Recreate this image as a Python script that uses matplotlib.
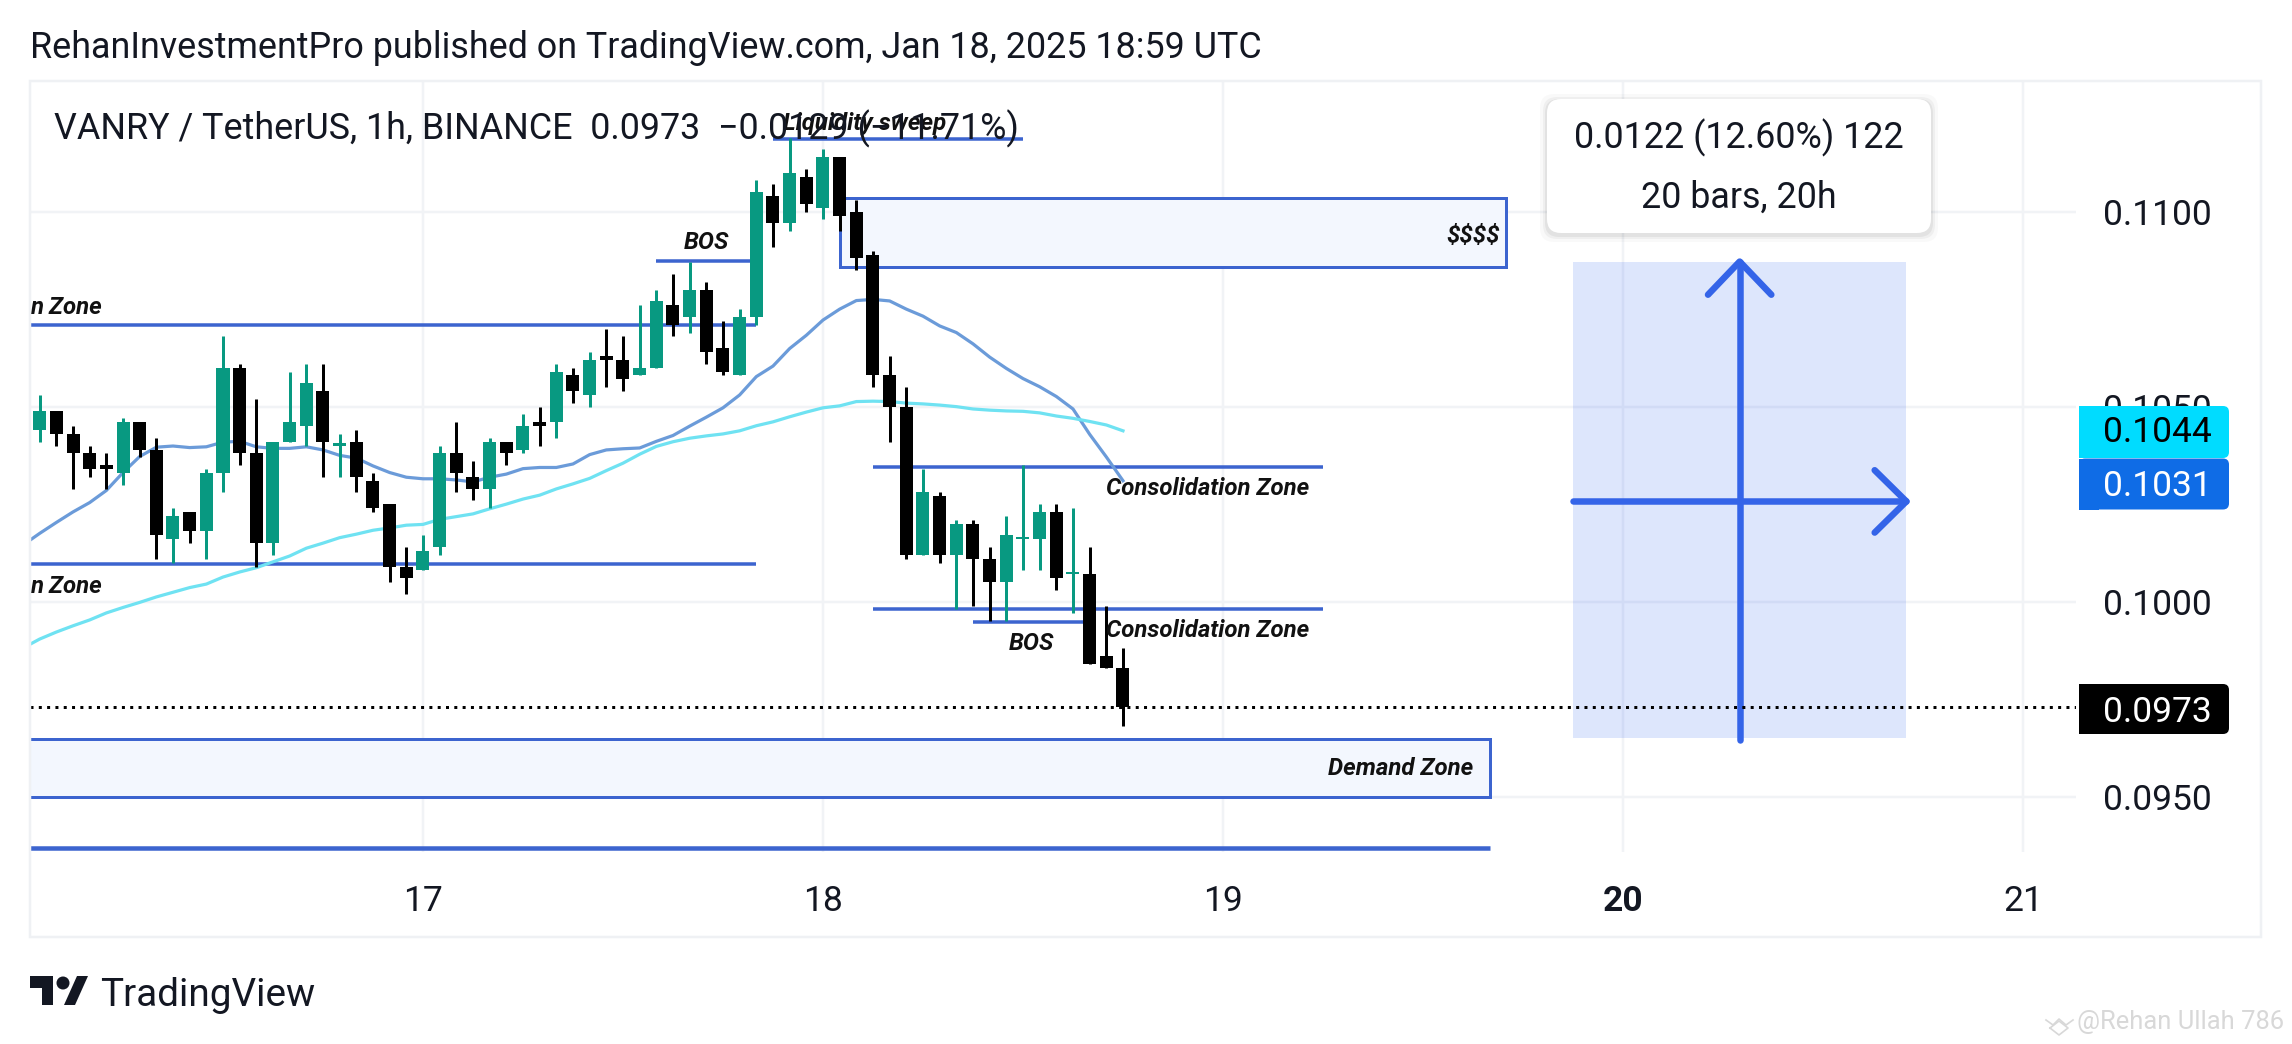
#! /usr/bin/env python3
# coding: utf-8

import numpy as np
import matplotlib
matplotlib.use('Agg')
import matplotlib.pyplot as plt
from matplotlib.patches import Rectangle, FancyBboxPatch, Circle, Polygon

plt.rcParams['font.family'] = ['Roboto', 'DejaVu Sans']

# hours from Jan 17 00:00, 1h candles
hours = np.arange(-23, 43)
opens = [0.1044, 0.1049, 0.1043, 0.1038, 0.1035, 0.1033, 0.1046, 0.1039, 0.1016, 0.1023, 0.1018,
         0.1033, 0.1060, 0.1038, 0.1015, 0.1041, 0.1045, 0.1054, 0.1040, 0.1041, 0.1031, 0.1025, 0.1009,
         0.1008, 0.1014, 0.1038, 0.1032, 0.1029, 0.1041, 0.1039, 0.1046, 0.1046, 0.1058, 0.1053, 0.1063,
         0.1062, 0.1058, 0.1060, 0.1076, 0.1073, 0.1080, 0.1065, 0.1058, 0.1073, 0.1104, 0.1097, 0.1109,
         0.1101, 0.1114, 0.1100, 0.1089, 0.1058, 0.1050, 0.1012, 0.1027, 0.1012, 0.1020, 0.1011, 0.1005,
         0.1016, 0.1016, 0.1023, 0.1007, 0.1007, 0.0986, 0.0983]
highs = [0.1053, 0.1049, 0.1045, 0.1040, 0.1038, 0.1047, 0.1046, 0.1042, 0.1024, 0.1023, 0.1034,
         0.1068, 0.1061, 0.1052, 0.1041, 0.1059, 0.1061, 0.1061, 0.1043, 0.1044, 0.1033, 0.1025, 0.1014,
         0.1017, 0.1040, 0.1046, 0.1036, 0.1042, 0.1041, 0.1048, 0.1050, 0.1061, 0.1060, 0.1064, 0.1070,
         0.1068, 0.1076, 0.1080, 0.1084, 0.1087, 0.1082, 0.1072, 0.1075, 0.1108, 0.1107, 0.1119, 0.1111,
         0.1116, 0.1114, 0.1103, 0.1090, 0.1063, 0.1055, 0.1034, 0.1028, 0.1021, 0.1021, 0.1014, 0.1022,
         0.1035, 0.1025, 0.1025, 0.1024, 0.1014, 0.0999, 0.0988]
lows = [0.1041, 0.1040, 0.1029, 0.1032, 0.1029, 0.1030, 0.1037, 0.1011, 0.1010, 0.1015, 0.1011,
        0.1028, 0.1035, 0.1009, 0.1012, 0.1041, 0.1040, 0.1032, 0.1032, 0.1028, 0.1023, 0.1005, 0.1002,
        0.1008, 0.1012, 0.1028, 0.1026, 0.1024, 0.1035, 0.1038, 0.1040, 0.1042, 0.1051, 0.1050, 0.1055,
        0.1054, 0.1058, 0.1060, 0.1068, 0.1069, 0.1061, 0.1058, 0.1058, 0.1071, 0.1091, 0.1095, 0.1100,
        0.1098, 0.1095, 0.1085, 0.1055, 0.1041, 0.1011, 0.1012, 0.1010, 0.0998, 0.0999, 0.0995, 0.0995,
        0.1008, 0.1008, 0.1003, 0.0997, 0.0984, 0.0983, 0.0968]
closes = [0.1049, 0.1043, 0.1038, 0.1034, 0.1034, 0.1046, 0.1039, 0.1017, 0.1022, 0.1018, 0.1033,
          0.1060, 0.1038, 0.1015, 0.1041, 0.1046, 0.1056, 0.1041, 0.1040, 0.1032, 0.1024, 0.1009, 0.1006,
          0.1013, 0.1038, 0.1033, 0.1029, 0.1041, 0.1038, 0.1045, 0.1045, 0.1059, 0.1054, 0.1062, 0.1062,
          0.1057, 0.1060, 0.1077, 0.1071, 0.1080, 0.1064, 0.1059, 0.1073, 0.1105, 0.1097, 0.1110, 0.1102,
          0.1114, 0.1099, 0.1088, 0.1058, 0.1050, 0.1012, 0.1028, 0.1012, 0.1020, 0.1011, 0.1005, 0.1017,
          0.1016, 0.1023, 0.1006, 0.1007, 0.0984, 0.0983, 0.0973]

# moving averages, start one hour earlier than the candles
ma_hours = np.arange(-24, 43)
ma_blue = [0.10145,
           0.10175, 0.10203, 0.1023, 0.10254, 0.10285, 0.10331, 0.10372, 0.10396, 0.10399, 0.10395, 0.10397,
           0.10409, 0.10411, 0.10397, 0.10393, 0.10393, 0.10397, 0.10389, 0.10375, 0.10368, 0.10348, 0.10331,
           0.10319, 0.10315,
           0.10315, 0.10312, 0.10307, 0.10319, 0.10327, 0.10341, 0.10344, 0.10344, 0.10353, 0.10377, 0.10389,
           0.10392, 0.10394, 0.10411, 0.10426, 0.1045, 0.10473, 0.10497, 0.1053, 0.10577, 0.10604, 0.10649,
           0.10683, 0.10722, 0.1075,
           0.10772, 0.10775, 0.10771, 0.1075, 0.10732, 0.10707, 0.1069, 0.10661, 0.10627, 0.10598, 0.10572,
           0.10551, 0.10526, 0.10494, 0.10429, 0.10371, 0.1031]
ma_cyan = [0.09881,
           0.09904, 0.09922, 0.09938, 0.09953, 0.09971, 0.09985, 0.09998, 0.10012, 0.10024, 0.10036, 0.10045,
           0.10063, 0.10076, 0.10087, 0.10102, 0.10117, 0.10137, 0.1015, 0.10164, 0.10173, 0.10183, 0.10189,
           0.10196, 0.10198,
           0.10211, 0.10218, 0.10225, 0.10238, 0.1025, 0.10263, 0.10273, 0.10289, 0.10302, 0.10316, 0.10336,
           0.10355, 0.10378, 0.10398, 0.1041, 0.10419, 0.10425, 0.1043, 0.10438, 0.10451, 0.10461, 0.10474,
           0.10486, 0.10497, 0.10502,
           0.10513, 0.10514, 0.10513, 0.10509, 0.10507, 0.10504, 0.105, 0.10494, 0.10491, 0.10489, 0.10488,
           0.10484, 0.10476, 0.1047, 0.10462, 0.10453, 0.10438]

price_ticks = [0.0950, 0.1000, 0.1050, 0.1100]
price_labels = ['0.0950', '0.1000', '0.1050', '0.1100']
day_ticks = [0, 24, 48, 72, 96]
day_labels = ['17', '18', '19', '20', '21']

last_price = 0.0973

# drawn levels: (start hour, end hour, price)
left_edge = -23.58
levels = [(left_edge, 20, 0.1071), (left_edge, 20, 0.10097), (14, 19.6, 0.10874), (21, 36, 0.11186),
          (27, 54, 0.10345), (27, 54, 0.0998), (33, 39.6, 0.09947)]
bottom_level = (left_edge, 64, 0.09367)
# zones: (start hour, end hour, low, high), the demand zone runs off the left side
zones = [(25, 65, 0.10857, 0.11034), (-30, 64, 0.09499, 0.09649)]
# position tool
pos_start, pos_end, pos_low, pos_high = 69, 89, 0.0965, 0.1087

GREEN = '#089981'
BLACK = '#000000'
ZONE = '#3c64cf'
GRID = '#f1f3f6'
FS = 25.85

fig = plt.figure(figsize=(22.92, 10.44), dpi=100, facecolor='white')
px = 0.72  # points for one pixel at dpi 100

ax = fig.add_axes([30 / 2292, (1044 - 852) / 1044, (2076 - 30) / 2292, (852 - 81) / 1044])
ax.set_xlim(left_edge, 99.18)
ax.set_ylim(0.09358, 0.11335)
for s in ax.spines.values():
    s.set_visible(False)
ax.set_axisbelow(True)
ax.grid(True, color=GRID, lw=2.5 * px)

ax.yaxis.tick_right()
ax.set_yticks(price_ticks)
ax.set_yticklabels(price_labels, fontsize=25.5, color='#131722')
ax.set_xticks(day_ticks)
ax.set_xticklabels(day_labels, fontsize=25.5, color='#131722')
ax.get_xticklabels()[3].set_fontweight('bold')
ax.tick_params(axis='y', length=0, pad=27 * px)
ax.tick_params(axis='x', length=0, pad=33 * px)

# zones and levels
for x0, x1, lo, hi in zones:
    ax.add_patch(Rectangle((x0, lo), x1 - x0, hi - lo, fc='#f3f7fe', ec=ZONE, lw=3 * px, zorder=1.5,
                           clip_on=True))
for x0, x1, y in levels:
    ax.plot([x0, x1], [y, y], color=ZONE, lw=3.5 * px, solid_capstyle='butt', zorder=2)
ax.plot(bottom_level[:2], [bottom_level[2]] * 2, color=ZONE, lw=4.5 * px, solid_capstyle='butt', zorder=2)

# position tool
ax.add_patch(Rectangle((pos_start, pos_low), pos_end - pos_start, pos_high - pos_low, fc='#2a60f0', alpha=0.155,
                       lw=0, zorder=1.6))
mid_x = (pos_start + pos_end) / 2
mid_y = (pos_low + pos_high) / 2 - 0.00003
ARROW = '#3464e8'
arrow_kw = dict(color=ARROW, lw=6.5 * px, solid_capstyle='round', solid_joinstyle='round', zorder=3)
ax.plot([mid_x, mid_x], [pos_low - 0.00005, pos_high + 0.00002], **arrow_kw)
ax.plot([mid_x - 1.9, mid_x, mid_x + 1.9], [pos_high - 0.00083, pos_high + 0.00002, pos_high - 0.00083], **arrow_kw)
ax.plot([pos_start, pos_end], [mid_y, mid_y], **arrow_kw)
ax.plot([pos_end - 1.9, pos_end, pos_end - 1.9], [mid_y + 0.0008, mid_y, mid_y - 0.0008], **arrow_kw)

# moving averages
ax.plot(ma_hours, ma_blue, color='#6b9bd9', lw=3.2 * px, zorder=3)
ax.plot(ma_hours, ma_cyan, color='#6fe2f2', lw=3.2 * px, zorder=3)

# last price line
ax.plot([left_edge, 99.18], [last_price, last_price], color=BLACK, lw=3 * px, ls=(0, (1, 1.77)), zorder=3)

# candles
o = np.array(opens)
c = np.array(closes)
colors = [GREEN if b >= a else BLACK for a, b in zip(o, c)]
ax.vlines(hours, lows, highs, colors=colors, lw=3 * px, zorder=4)
ax.bar(hours, np.maximum(np.abs(c - o), 0.00006), bottom=np.minimum(o, c), width=0.78, color=colors, lw=0, zorder=4)

# drawing labels
lab = dict(fontsize=17.3, fontweight='bold', style='italic', color='#111111', va='center', zorder=6)
ax.text(left_edge, 0.10755, 'n Zone', ha='left', **lab)
ax.text(left_edge, 0.1004, 'n Zone', ha='left', **lab)
ax.text(17, 0.10921, 'BOS', ha='center', **lab)
ax.text(36.5, 0.09892, 'BOS', ha='center', **lab)
ax.text(26.5, 0.11225, 'Liquidity sweep', ha='center', **lab)
ax.text(64.6, 0.10938, '$$$$', ha='right', parse_math=False, **lab)
ax.text(41, 0.10289, 'Consolidation Zone', ha='left', **lab)
ax.text(41, 0.09926, 'Consolidation Zone', ha='left', **lab)
ax.text(63, 0.09572, 'Demand Zone', ha='right', **lab)

# page furniture in pixel coordinates
top = fig.add_axes([0, 0, 1, 1], zorder=5)
top.set_xlim(0, 2292)
top.set_ylim(1044, 0)
top.axis('off')
top.patch.set_alpha(0)

top.add_patch(Rectangle((30, 81), 2231, 856, fill=False, ec='#eff1f4', lw=2.5 * px))

top.text(30, 48.5, 'RehanInvestmentPro published on TradingView.com, Jan 18, 2025 18:59 UTC', fontsize=FS,
         color='#131722', va='center', ha='left')
top.text(54, 128.5, 'VANRY / TetherUS, 1h, BINANCE  0.0973  \u22120.0129 (\u221211.71%)', fontsize=FS,
         color='#131722', va='center', ha='left', zorder=1)

# tooltip of the position tool
for grow, a in [(7, 0.025), (4, 0.04), (2, 0.05)]:
    top.add_patch(FancyBboxPatch((1547 - grow, 99 - grow + 2), 384 + 2 * grow, 134 + 2 * grow,
                                 boxstyle='round,pad=0,rounding_size=14', fc='black', alpha=a, lw=0))
top.add_patch(FancyBboxPatch((1547, 99), 384, 134, boxstyle='round,pad=0,rounding_size=14', fc='white', lw=0))
top.text(1739, 138, '0.0122 (12.60%) 122', fontsize=FS, color='#131722', ha='center', va='center')
top.text(1739, 198, '20 bars, 20h', fontsize=FS, color='#131722', ha='center', va='center')

# price tags
tags = [(406, 52, '#00dcff', '#000000', '0.1044', 432), (458.5, 51, '#0f6ce6', '#ffffff', '0.1031', 486),
        (684, 50, '#000000', '#ffffff', '0.0973', 712)]
for y, h, fc, tc, txt, ty in tags:
    top.add_patch(FancyBboxPatch((2079, y), 150, h, boxstyle='round,pad=0,rounding_size=6', fc=fc, lw=0))
    top.add_patch(Rectangle((2079, y), 20, h, fc=fc, lw=0))
    top.text(2103, ty, txt, fontsize=25.5, color=tc, ha='left', va='center')

# TradingView logo
LOGO = '#131722'
top.add_patch(Polygon([(30, 976), (53, 976), (53, 1005), (42, 1005), (42, 988), (30, 988)], fc=LOGO, lw=0))
top.add_patch(Circle((63, 983), 6.5, fc=LOGO, lw=0))
top.add_patch(Polygon([(77, 976), (88, 976), (75, 1005), (64, 1005)], fc=LOGO, lw=0))
top.text(100, 995, 'TradingView', fontsize=27.9, color='#131722', ha='left', va='center')

# watermark
WM = '#d8d8d8'
top.plot([2046, 2053, 2059, 2066, 2073], [1020, 1025, 1019, 1025, 1020], color=WM, lw=1.2)
top.plot([2050, 2059, 2068, 2059, 2050], [1028, 1035, 1028, 1021, 1028], color=WM, lw=1.2)
top.text(2077, 1022, '@Rehan Ullah 786', fontsize=18.4, color=WM, ha='left', va='center')

fig.savefig('out.png', dpi=100)
